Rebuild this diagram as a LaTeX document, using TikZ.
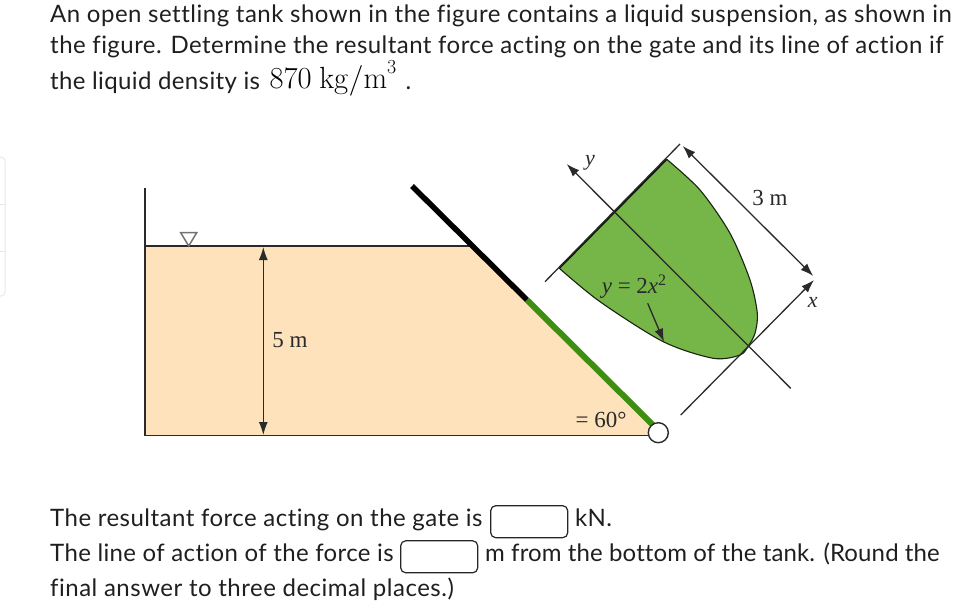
\documentclass[tikz,border=0pt]{standalone}
\usepackage{graphicx}
\usepackage[no-math]{fontspec}
\setmainfont[Ligatures=NoCommon]{Lato}
\newfontfamily\figfont{Liberation Serif}
\usetikzlibrary{arrows.meta}
\definecolor{tankfill}{HTML}{FDE2BC}
\definecolor{gatefill}{HTML}{76B648}
\definecolor{gateedge}{HTML}{3E8E12}
\definecolor{inkc}{HTML}{2A2A2A}
\definecolor{uiline}{HTML}{E8E8E8}
\newcommand{\spaced}[1]{\addfontfeatures{LetterSpace=#1}}
\tikzset{
  prose/.style={anchor=base west,inner sep=0pt,text=black!88,font=\fontsize{24}{24}\selectfont},
  figlabel/.style={inner sep=0pt,text=inkc,font=\figfont\fontsize{23}{23}\selectfont},
  figital/.style={figlabel,font=\figfont\itshape\fontsize{22}{22}\selectfont},
  thinline/.style={draw=inkc,line width=1.3pt},
  dimline/.style={thinline,{Latex[length=13pt,width=9pt]}-{Latex[length=13pt,width=9pt]}},
  axisline/.style={thinline,-{Latex[length=13pt,width=9pt]}},
  answerbox/.style={draw=black!85,line width=1.2pt,rounded corners=5pt,minimum width=77pt,minimum height=32pt,inner sep=0pt}
}
\begin{document}
\begin{tikzpicture}[x=1pt,y=-1pt]
\useasboundingbox (0,0) rectangle (956,605);
% faint interface outline at left edge
\draw[uiline,line width=1pt,rounded corners=4pt] (0,157) -- (5,157) -- (5,296) -- (0,296);
\draw[uiline,line width=1pt] (0,204) -- (5,204) (0,251) -- (5,251);
% text
\node[prose] (t1) at (50,23) {\spaced{2.1}An open settling tank shown in the figure contains a liquid suspension, as shown in};
\node[prose] (t2) at (50,53) {\spaced{1.9}the figure. Determine the resultant force acting on the gate and its line of action if};
\node[prose] (t3) at (50,89) {\spaced{1.6}the liquid density is};
\node[prose,text=black] (t3m) at (269.5,88) {\scalebox{1.23}{$\mathrm{870\ kg/m}$}\raisebox{15pt}{\scalebox{0.8}{$\mathrm{3}$}}};
\node[prose] (t3d) at (405.5,89) {.};
\node[prose] (a1) at (50,526) {\spaced{2.0}The resultant force acting on the gate is};
\node[answerbox] (box1) at (529.2,521.7) {};
\node[prose] (a1b) at (575,526) {\spaced{1.2}kN.};
\node[prose] (a2) at (50,561) {\spaced{1.6}The line of action of the force is};
\node[answerbox] (box2) at (439.2,556.8) {};
\node[prose] (a2b) at (485,561) {\spaced{0.55}m from the bottom of the tank. (Round the};
\node[prose] (a3) at (50,596) {\spaced{2.1}final answer to three decimal places.)};
% tank
\coordinate (walltop) at (145,188);
\coordinate (wl) at (145,246);
\coordinate (wr) at (472,246);
\coordinate (bl) at (145,435.7);
\coordinate (br) at (658,435.7);
\coordinate (gatetop) at (412,186);
\coordinate (gatemid) at (527,300);
\coordinate (hingein) at (653,425);
\fill[tankfill] (wl) -- (wr) -- (hingein) -- (br) -- (bl) -- cycle;
\draw[draw=inkc,line width=1.5pt] (walltop) -- (bl) -- (br);
\draw[draw=inkc,line width=1.5pt] (wl) -- (wr);
\draw[black,line width=5.5pt] (gatetop) -- (gatemid);
\draw[gateedge,line width=6pt] (gatemid) -- (hingein);
\node[circle,draw=inkc,fill=white,line width=1.4pt,minimum size=20pt,inner sep=0pt] (hinge) at (658.3,432.7) {};
% free-surface symbol
\draw[draw=black!55,line width=1.5pt,fill=white] (180.7,232.7) -- (196.7,232.7) -- (188.7,246) -- cycle;
% 5 m
\coordinate (d5a) at (263.3,247);
\coordinate (d5b) at (263.3,435);
\draw[dimline] (d5a) -- (d5b);
\node[figlabel] (l5) at (290,340) {5 m};
\node[figlabel] (l60) at (601,419.5) {= 60\textdegree};
% gate shape
\coordinate (gA) at (666.7,159.3);
\coordinate (gB) at (559.3,268.3);
\coordinate (gV) at (748.3,346);
\filldraw[fill=gatefill,draw=black!80!gatefill,line width=1.1pt]
  plot[smooth,tension=0.5] coordinates {(559.3,268.3) (600,301.7) (663.3,341.7) (713.3,358.3) (740,355) (748.3,346) (755,333.3) (757.3,313.3) (750,280) (730,233.3) (700,190) (666.7,159.3)};
\draw[black!90!gatefill,line width=1.6pt] (gA) -- (gB);
% axes and dimension
\coordinate (ytip) at (566.7,164);
\coordinate (yend) at (790.7,388.3);
\coordinate (xtip) at (814,280);
\coordinate (xend) at (680.7,415);
\coordinate (e1) at (545,281.7);
\coordinate (e2) at (680,144);
\coordinate (d3a) at (682.7,146);
\coordinate (d3b) at (813.3,276);
\draw[axisline] (yend) -- (ytip);
\draw[axisline] (xend) -- (xtip);
\draw[thinline] (e1) -- (e2);
\draw[dimline] (d3a) -- (d3b);
\node[figlabel] (l3) at (770,198.3) {3 m};
\node[figital] (ly) at (590,163) {y};
\node[figital] (lx) at (812.7,302) {x};
\node[figlabel] (leq) at (634,287) {\itshape y\upshape{} = 2\itshape x\upshape\raisebox{8pt}{\fontsize{16}{16}\selectfont 2}};
\coordinate (pa) at (647.7,303.3);
\coordinate (pb) at (664,341.7);
\draw[axisline] (pa) -- (pb);
\end{tikzpicture}
\end{document}
